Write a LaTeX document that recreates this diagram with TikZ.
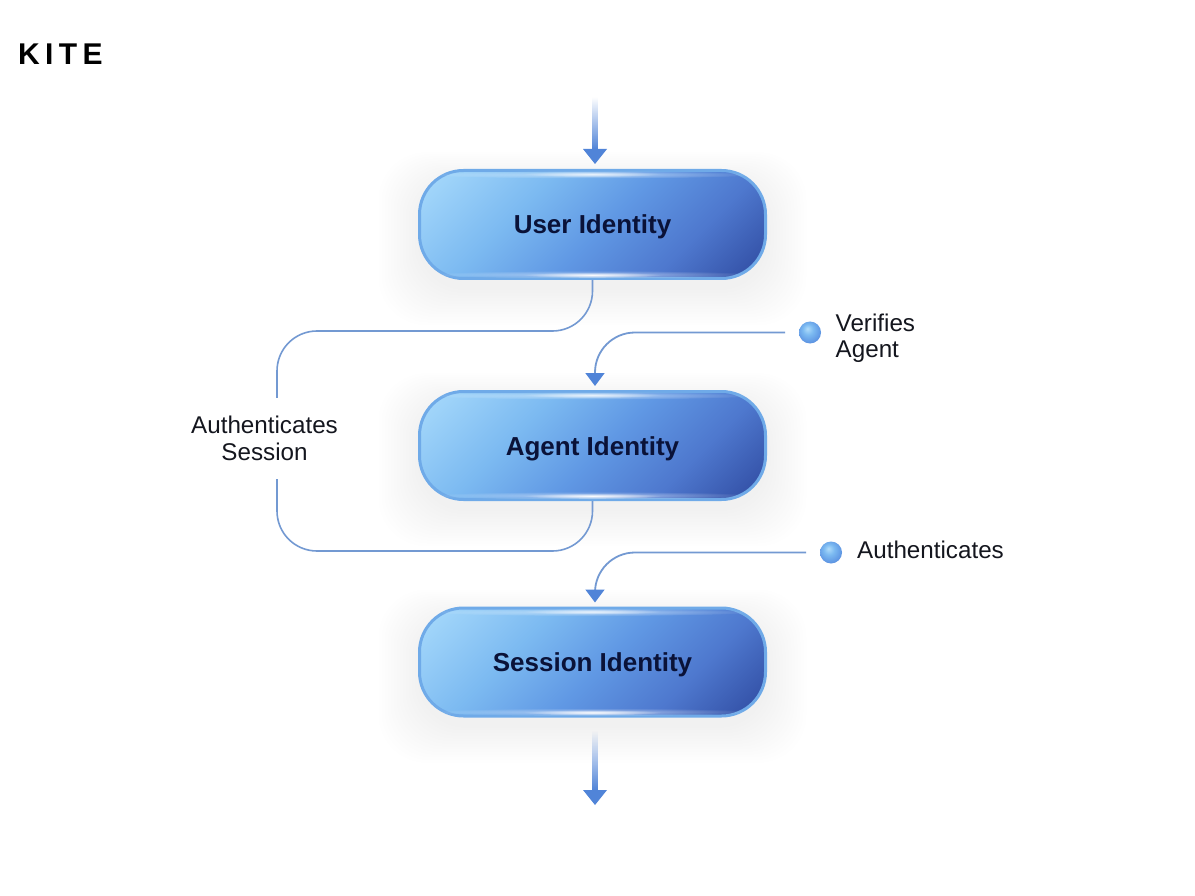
\documentclass[tikz,border=0pt]{standalone}
\usepackage{fontspec}
\setmainfont{Liberation Sans}
\newfontfamily\kitefont[LetterSpace=18]{Liberation Sans}
\usetikzlibrary{arrows.meta,fadings,calc}
\definecolor{navytext}{HTML}{0A1238}
\definecolor{labeltext}{HTML}{14161E}
\definecolor{linecol}{HTML}{7399D2}
\definecolor{arrowcol}{HTML}{5084D8}
\definecolor{edgecol}{HTML}{6FAAE8}
\definecolor{shadowcol}{HTML}{5A78C8}
\definecolor{gA}{HTML}{A2D6FA}
\definecolor{gB}{HTML}{7CBAF1}
\definecolor{gC}{HTML}{6098E4}
\definecolor{gD}{HTML}{4E78CE}
\definecolor{gE}{HTML}{2F4AA0}
\pgfdeclarehorizontalshading{boxgrad}{100bp}{color(0bp)=(gA); color(18bp)=(gA); color(36bp)=(gB); color(52bp)=(gC); color(68bp)=(gD); color(85bp)=(gE); color(100bp)=(gE)}
\pgfdeclareradialshading{dotball}{\pgfpoint{-6bp}{9bp}}{color(0bp)=(gA!85!white); color(12bp)=(gB); color(26bp)=(gC); color(50bp)=(gE!70!gD)}
\tikzfading[name=glowfade, inner color=transparent!0, outer color=transparent!100]
\tikzfading[name=shaftfade, top color=transparent!100, bottom color=transparent!0]
\newcommand{\boxtext}[1]{\raisebox{-9.5pt}[0pt][0pt]{#1}}
\tikzset{
  x=1pt,y=-1pt,
  idbox/.style={rectangle,rounded corners=44pt,minimum width=346pt,minimum height=108pt,
    line width=3pt,draw=edgecol,shading=boxgrad,shading angle=-45,
    text=navytext,font=\bfseries\fontsize{26}{30}\selectfont,inner sep=0pt},
  lbl/.style={text=labeltext,font=\fontsize{24.2}{26.5}\selectfont,inner sep=0pt},
  conn/.style={draw=linecol,line width=1.6pt,rounded corners=40pt},
  feed/.style={conn,line width=1.8pt,-{Triangle[width=19pt,length=13pt,fill=arrowcol,color=arrowcol]},shorten >=4pt,shorten <=25pt},
  dotnode/.style={circle,minimum size=22pt,inner sep=0pt,shading=dotball},
  shaft/.style={fill=arrowcol,path fading=shaftfade,draw=none},
  headtip/.style={fill=arrowcol,draw=none},
}
\begin{document}
\begin{tikzpicture}
\useasboundingbox (0,0) rectangle (1195,896);
\fill[white] (0,0) rectangle (1195,896);
% soft shadows behind the boxes
\foreach \cy in {224.5,445.5,662} {
  \foreach \s in {3,6,...,42} {
    \fill[shadowcol,opacity=0.0055,rounded corners=48pt]
      ({592.5-172-\s},{\cy-55+12-\s*0.7}) rectangle ({592.5+172+\s},{\cy+55+8+\s*0.9});
  }
}
% nodes
\node[idbox] (user) at (592.5,224.5) {\boxtext{User Identity}};
\node[idbox] (agent) at (592.5,445.5) {\boxtext{Agent Identity}};
\node[idbox] (session) at (592.5,662) {\boxtext{Session Identity}};
\node[lbl,anchor=west,font=\bfseries\fontsize{30}{30}\selectfont\kitefont,text=black] (kite) at (18,54.5) {KITE};
\node[lbl,align=center,minimum height=81pt] (authsess) at (264.5,438.5) {Authenticates\\Session};
\node[dotnode] (dotA) at (810,332.5) {};
\node[dotnode] (dotB) at (831,552.5) {};
\node[lbl,align=left,anchor=west] (verif) at (835.5,338) {Verifies\\Agent};
\node[lbl,anchor=west] (authen) at (857,550) {Authenticates};
\coordinate (lineX) at (277,0);
\coordinate (tipX) at (595,0);
% highlights on box edges
\foreach \b in {user,agent,session} {
  \fill[white,opacity=.5,path fading=glowfade] ([yshift=-5.5pt]\b.north) ellipse [x radius=165pt,y radius=4pt];
  \fill[white,opacity=.7,path fading=glowfade] ([yshift=-5pt]\b.north) ellipse [x radius=70pt,y radius=3pt];
  \fill[white,opacity=.5,path fading=glowfade] ([yshift=5.5pt]\b.south) ellipse [x radius=165pt,y radius=4pt];
  \fill[white,opacity=.95,path fading=glowfade] ([yshift=5pt]\b.south) ellipse [x radius=70pt,y radius=2.8pt];
}
% loop connectors
\draw[conn] (user.south) -- (user.south |- 0,331) -- (lineX |- 0,331) -- (authsess.north -| lineX);
\draw[conn] (agent.south) -- (agent.south |- 0,551) -- (lineX |- 0,551) -- (authsess.south -| lineX);
% feed connectors
\draw[feed] (dotA.center) -- (tipX |- dotA.center) -- (agent.north -| tipX);
\draw[feed] (dotB.center) -- (tipX |- dotB.center) -- (session.north -| tipX);
% top and bottom arrows
\coordinate (topstart) at (595,97);
\coordinate (botend) at (595,805);
\fill[shaft] ($(topstart)+(-3.2,0)$) rectangle ($(user.north -| tipX)+(3.2,-20)$);
\fill[headtip] ($(user.north -| tipX)+(-12,-20)$) -- ($(user.north -| tipX)+(12,-20)$) -- ($(user.north -| tipX)+(0,-5)$) -- cycle;
\fill[shaft] ($(session.south -| tipX)+(-3.2,13)$) rectangle ($(botend)+(3.2,-15)$);
\fill[headtip] ($(botend)+(-12,-15)$) -- ($(botend)+(12,-15)$) -- (botend) -- cycle;
\end{tikzpicture}
\end{document}
